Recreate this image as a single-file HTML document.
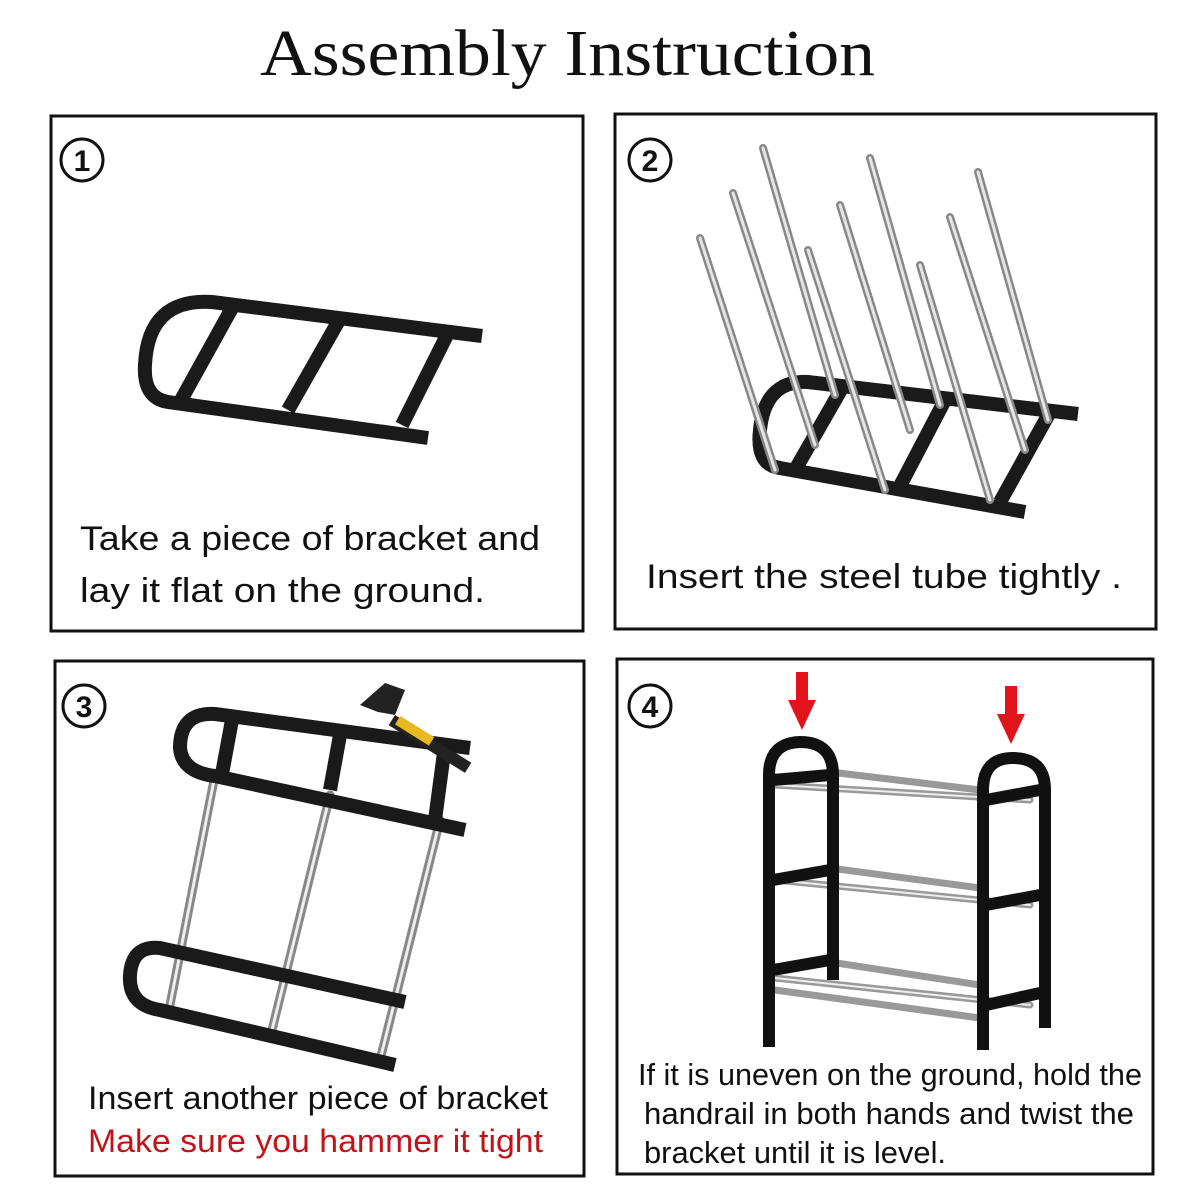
<!DOCTYPE html>
<html><head><style>
html,body{margin:0;padding:0;background:#fff;width:1200px;height:1200px;overflow:hidden}
</style></head><body>
<svg width="1200" height="1200" viewBox="0 0 1200 1200" xmlns="http://www.w3.org/2000/svg">
<rect width="1200" height="1200" fill="#fff"/>
<text x="260" y="75" textLength="615" lengthAdjust="spacingAndGlyphs" font-family="Liberation Serif, serif" font-size="66" fill="#111">Assembly Instruction</text>
<g fill="none" stroke="#111" stroke-width="3">
<rect x="51" y="116" width="532" height="515"/>
<rect x="615" y="114" width="541" height="515"/>
<rect x="55" y="661" width="529" height="515"/>
<rect x="617" y="659" width="536" height="515"/>
</g>
<g font-family="Liberation Sans, sans-serif" font-weight="bold" font-size="30" text-anchor="middle" fill="#111">
<circle cx="82" cy="160" r="21" fill="none" stroke="#111" stroke-width="3"/><text x="82" y="171">1</text>
<circle cx="650" cy="160" r="21" fill="none" stroke="#111" stroke-width="3"/><text x="650" y="171">2</text>
<circle cx="84" cy="706" r="21" fill="none" stroke="#111" stroke-width="3"/><text x="84" y="717">3</text>
<circle cx="650" cy="706" r="21" fill="none" stroke="#111" stroke-width="3"/><text x="650" y="717">4</text>
</g>
<!-- panel 1 -->
<g fill="none" stroke="#1a1a1a" stroke-width="14" stroke-linecap="butt">
<path d="M482,336 L212,302 Q148,298 145,365 Q143,398 168,402 L428,438"/>
<line x1="232" y1="308" x2="180" y2="402"/>
<line x1="338" y1="322" x2="288" y2="410"/>
<line x1="448" y1="333" x2="402" y2="425"/>
</g>
<!-- panel 2 -->
<g fill="none" stroke="#1a1a1a" stroke-width="14">
<path d="M1078,414 L808,382 Q765,380 760,430 Q756,465 780,468 L1025,512"/>
<line x1="842" y1="388" x2="795" y2="470"/>
<line x1="945" y1="400" x2="900" y2="486"/>
<line x1="1050" y1="412" x2="1000" y2="502"/>
</g>
<g stroke-linecap="round">
<g stroke="#888" stroke-width="8">
<line x1="700" y1="238" x2="775" y2="470"/><line x1="733" y1="193" x2="815" y2="445"/>
<line x1="763" y1="148" x2="835" y2="395"/><line x1="808" y1="250" x2="885" y2="490"/>
<line x1="840" y1="205" x2="910" y2="430"/><line x1="870" y1="158" x2="940" y2="405"/>
<line x1="920" y1="265" x2="990" y2="500"/><line x1="950" y1="217" x2="1025" y2="450"/>
<line x1="978" y1="172" x2="1048" y2="420"/>
</g>
<g stroke="#e6e6e6" stroke-width="3">
<line x1="700" y1="238" x2="775" y2="470"/><line x1="733" y1="193" x2="815" y2="445"/>
<line x1="763" y1="148" x2="835" y2="395"/><line x1="808" y1="250" x2="885" y2="490"/>
<line x1="840" y1="205" x2="910" y2="430"/><line x1="870" y1="158" x2="940" y2="405"/>
<line x1="920" y1="265" x2="990" y2="500"/><line x1="950" y1="217" x2="1025" y2="450"/>
<line x1="978" y1="172" x2="1048" y2="420"/>
</g>
</g>
<!-- panel 3 -->
<g stroke-linecap="round">
<g stroke="#888" stroke-width="9">
<line x1="215" y1="775" x2="170" y2="1005"/><line x1="330" y1="795" x2="272" y2="1030"/><line x1="440" y1="820" x2="380" y2="1060"/>
</g>
<g stroke="#eee" stroke-width="3">
<line x1="215" y1="775" x2="170" y2="1005"/><line x1="330" y1="795" x2="272" y2="1030"/><line x1="440" y1="820" x2="380" y2="1060"/>
</g>
</g>
<g fill="none" stroke="#1a1a1a" stroke-width="14">
<path d="M470,748 L215,714 Q180,712 180,748 Q182,772 215,776 L465,830"/>
<line x1="232" y1="720" x2="222" y2="774"/>
<line x1="340" y1="735" x2="330" y2="790"/>
<line x1="445" y1="745" x2="435" y2="820"/>
<path d="M405,1002 L160,948 Q132,945 130,975 Q128,1005 160,1010 L395,1065"/>
</g>
<g>
<rect x="395" y="715" width="90" height="12" fill="#222" transform="rotate(32 395 715)"/>
<rect x="400" y="713" width="40" height="10" fill="#e8b820" transform="rotate(32 395 715)"/>
<path d="M360,705 L385,683 L405,690 L395,715 L378,712 Z" fill="#222"/>
</g>
<!-- panel 4 -->
<g fill="none" stroke-linecap="round">
<g stroke="#999" stroke-width="7">
<line x1="775" y1="785" x2="1030" y2="800"/><line x1="830" y1="772" x2="980" y2="790"/>
<line x1="775" y1="880" x2="1030" y2="905"/><line x1="830" y1="868" x2="980" y2="888"/>
<line x1="775" y1="978" x2="1030" y2="1005"/><line x1="830" y1="962" x2="980" y2="985"/>
<line x1="775" y1="990" x2="980" y2="1018"/>
</g>
<g stroke="#eee" stroke-width="2">
<line x1="775" y1="785" x2="1030" y2="800"/><line x1="775" y1="880" x2="1030" y2="905"/><line x1="775" y1="978" x2="1030" y2="1005"/>
</g>
</g>
<g fill="none" stroke="#111" stroke-width="12">
<path d="M769,1047 L769,775 Q769,743 800,742 Q833,742 833,775 L833,980"/>
<path d="M983,1050 L983,790 Q983,758 1013,758 Q1045,758 1045,790 L1045,1028"/>
<line x1="773" y1="780" x2="830" y2="775"/><line x1="773" y1="880" x2="830" y2="870"/><line x1="773" y1="970" x2="830" y2="960"/>
<line x1="986" y1="800" x2="1040" y2="790"/><line x1="986" y1="905" x2="1040" y2="895"/><line x1="986" y1="1005" x2="1040" y2="993"/>
</g>
<g fill="#e0141a">
<rect x="796" y="672" width="12" height="30"/><polygon points="788,700 816,700 802,730"/>
<rect x="1005" y="686" width="12" height="30"/><polygon points="997,714 1025,714 1011,744"/>
</g>
<g font-family="Liberation Sans, sans-serif" font-size="34" fill="#111" lengthAdjust="spacingAndGlyphs">
<text x="80" y="550" textLength="460" lengthAdjust="spacingAndGlyphs">Take a piece of bracket and</text>
<text x="80" y="602" textLength="405" lengthAdjust="spacingAndGlyphs">lay it flat on the ground.</text>
<text x="646" y="588" textLength="476" lengthAdjust="spacingAndGlyphs">Insert the steel tube tightly .</text>
<text x="88" y="1109" font-size="32" textLength="460" lengthAdjust="spacingAndGlyphs">Insert another piece of bracket</text>
<text x="88" y="1152" font-size="32" fill="#c0141a" textLength="455" lengthAdjust="spacingAndGlyphs">Make sure you hammer it tight</text>
</g>
<g font-family="Liberation Sans, sans-serif" font-size="31" fill="#111">
<text x="638" y="1085" textLength="504" lengthAdjust="spacingAndGlyphs">If it is uneven on the ground, hold the</text>
<text x="644" y="1124" textLength="490" lengthAdjust="spacingAndGlyphs">handrail in both hands and twist the</text>
<text x="644" y="1163" textLength="302" lengthAdjust="spacingAndGlyphs">bracket until it is level.</text>
</g>
</svg>
</body></html>
